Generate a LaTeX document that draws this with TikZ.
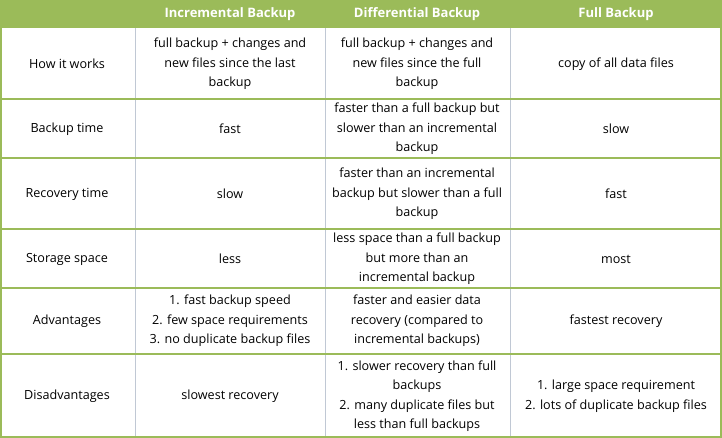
\documentclass[tikz,border=0pt]{standalone}
\usepackage{fontspec}
\setmainfont{Open Sans}
\definecolor{hdrgreen}{HTML}{9BBB59}
\definecolor{gridgrey}{HTML}{C0C8D4}
\tikzset{
  cell/.style={align=center, font=\fontsize{12.6}{19.5}\selectfont, inner sep=0pt},
  hdr/.style={cell, font=\fontsize{13}{15}\selectfont\bfseries, text=white},
}
\begin{document}
\begin{tikzpicture}[x=1pt, y=-1pt]
    \useasboundingbox (0,0) rectangle (722,438);
    % header band
    \fill[hdrgreen] (0,0) rectangle (722,28);

    % grid lines
    \foreach \xx in {135,325,510}
        \draw[gridgrey] (\xx,28) -- (\xx,437);
    \foreach \yy in {99,158,229,288,354,437}
        \draw[hdrgreen, line width=1.2pt] (0,\yy) -- (722,\yy);
    \draw[hdrgreen, line width=1.5pt] (0.75,0) -- (0.75,438);
    \draw[hdrgreen, line width=1.5pt] (721,0) -- (721,438);

    % header
    \node[hdr] (hInc) at (230,14) {Incremental Backup};
    \node[hdr] (hDiff) at (417,14) {Differential Backup};
    \node[hdr] (hFull) at (616,14) {Full Backup};

    % row labels
    \node[cell] (rWork) at (67,64) {How it works};
    \node[cell] (rBtime) at (67,129) {Backup time};
    \node[cell] (rRtime) at (67,194) {Recovery time};
    \node[cell] (rSpace) at (67,259) {Storage space};
    \node[cell] (rAdv) at (67,321) {Advantages};
    \node[cell] (rDis) at (67,396) {Disadvantages};

    % incremental
    \node[cell] (iWork) at (230,64) {full backup + changes and\\new files since the last\\backup};
    \node[cell] (iBtime) at (230,129) {fast};
    \node[cell] (iRtime) at (230,194) {slow};
    \node[cell] (iSpace) at (230,259) {less};
    \node[cell] (iAdv) at (230,321) {1. fast backup speed\\2. few space requirements\\3. no duplicate backup files};
    \node[cell] (iDis) at (230,396) {slowest recovery};

    % differential
    \node[cell] (dWork) at (417,64) {full backup + changes and\\new files since the full\\backup};
    \node[cell] (dBtime) at (417,129) {faster than a full backup but\\slower than an incremental\\backup};
    \node[cell] (dRtime) at (417,194) {faster than an incremental\\backup but slower than a full\\backup};
    \node[cell] (dSpace) at (417,259) {less space than a full backup\\but more than an\\incremental backup};
    \node[cell] (dAdv) at (417,321) {faster and easier data\\recovery (compared to\\incremental backups)};
    \node[cell] (dDis) at (417,396) {1. slower recovery than full\\backups\\2. many duplicate files but\\less than full backups};

    % full
    \node[cell] (fWork) at (616,64) {copy of all data files};
    \node[cell] (fBtime) at (616,129) {slow};
    \node[cell] (fRtime) at (616,194) {fast};
    \node[cell] (fSpace) at (616,259) {most};
    \node[cell] (fAdv) at (616,321) {fastest recovery};
    \node[cell] (fDis) at (616,396) {1. large space requirement\\2. lots of duplicate backup files};
\end{tikzpicture}
\end{document}
